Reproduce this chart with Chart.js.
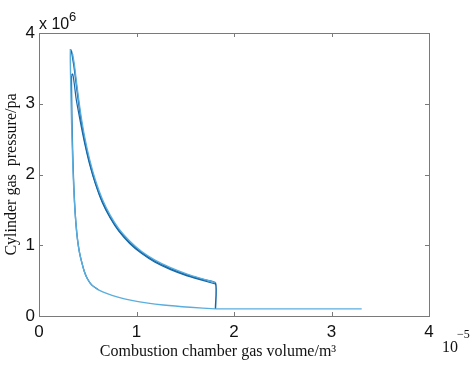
<!DOCTYPE html>
<html>
<head>
<meta charset="utf-8">
<script src="https://cdn.jsdelivr.net/npm/chart.js@4/dist/chart.umd.min.js"></script>
<style>
  html, body { margin: 0; padding: 0; background: #fff; }
  #wrap { width: 474px; height: 365px; position: relative; }
</style>
</head>
<body>
<div id="wrap"><canvas id="c" width="474" height="365"></canvas></div>
<script>
// Volume in units of 1e-5 m^3, pressure in units of 1e6 Pa
const compVolA = [1.81, 1.55, 1.275, 1.1, 0.95, 0.8, 0.7, 0.61, 0.54, 0.495, 0.465, 0.44, 0.415, 0.395, 0.378, 0.364, 0.352, 0.342, 0.333, 0.326, 0.321, 0.322];
const compPresA = [0.10, 0.123, 0.155, 0.185, 0.22, 0.27, 0.315, 0.37, 0.44, 0.53, 0.63, 0.75, 0.90, 1.08, 1.32, 1.60, 1.95, 2.35, 2.80, 3.25, 3.62, 3.77];
const expVolA = [0.322, 0.333, 0.345, 0.36, 0.38, 0.40, 0.43, 0.47, 0.52, 0.58, 0.65, 0.73, 0.82, 0.93, 1.05, 1.19, 1.35, 1.52, 1.68, 1.81, 1.81];
const expPresA = [3.77, 3.74, 3.65, 3.52, 3.30, 3.08, 2.78, 2.47, 2.17, 1.88, 1.62, 1.40, 1.21, 1.04, 0.90, 0.775, 0.67, 0.58, 0.515, 0.465, 0.10];
const compVolB = [0.61, 0.54, 0.495, 0.465, 0.44, 0.415, 0.395, 0.378, 0.365, 0.354, 0.345, 0.338, 0.334, 0.333];
const compPresB = [0.37, 0.44, 0.53, 0.63, 0.75, 0.90, 1.08, 1.32, 1.60, 1.95, 2.35, 2.80, 3.20, 3.40];
const expVolB = [0.333, 0.345, 0.36, 0.38, 0.40, 0.43, 0.47, 0.52, 0.58, 0.65, 0.73, 0.82, 0.93, 1.05, 1.19, 1.35, 1.52, 1.68, 1.81];
const expPresB = [3.40, 3.42, 3.30, 3.08, 2.92, 2.70, 2.43, 2.14, 1.86, 1.60, 1.385, 1.195, 1.025, 0.885, 0.76, 0.655, 0.567, 0.503, 0.452];
const expVolC = [0.345, 0.36, 0.38, 0.40, 0.43, 0.47, 0.52, 0.58, 0.65, 0.73, 0.82, 0.93, 1.05, 1.19, 1.35, 1.52, 1.68, 1.81];
const expPresC = [3.70, 3.58, 3.36, 3.14, 2.84, 2.52, 2.21, 1.915, 1.65, 1.425, 1.23, 1.06, 0.915, 0.79, 0.683, 0.592, 0.525, 0.475];
const exhVol = [1.81, 3.31];
const exhPres = [0.10, 0.10];
const xTicks = [0, 1, 2, 3, 4];
const yTicks = [0, 1, 2, 3, 4];

function pts(xs, ys) { return xs.map((x, i) => ({ x: x, y: ys[i] })); }

const DARK = '#1767a8';
const LIGHT = '#5aaede';

const boxPlugin = {
  id: 'boxTicks',
  afterDatasetsDraw(chart) {
    const { ctx, chartArea: a, scales } = chart;
    ctx.save();
    ctx.strokeStyle = '#7a7a7a';
    ctx.lineWidth = 1;
    ctx.strokeRect(a.left + 0.5, a.top + 0.5, a.right - a.left, a.bottom - a.top);
    ctx.beginPath();
    const L = 4;
    xTicks.forEach(v => {
      const px = Math.round(scales.x.getPixelForValue(v)) + 0.5;
      ctx.moveTo(px, a.bottom); ctx.lineTo(px, a.bottom - L);
      ctx.moveTo(px, a.top); ctx.lineTo(px, a.top + L);
    });
    yTicks.forEach(v => {
      const py = Math.round(scales.y.getPixelForValue(v)) + 0.5;
      ctx.moveTo(a.left, py); ctx.lineTo(a.left + L, py);
      ctx.moveTo(a.right, py); ctx.lineTo(a.right - L, py);
    });
    ctx.stroke();
    // exponent labels
    ctx.fillStyle = '#111';
    ctx.textBaseline = 'alphabetic';
    ctx.textAlign = 'left';
    ctx.font = '16px "Liberation Sans"';
    ctx.fillText('x 10', a.left, a.top - 4);
    ctx.font = '13px "Liberation Sans"';
    ctx.fillText('6', a.left + 30, a.top - 12);
    ctx.font = '16px "Liberation Serif"';
    ctx.fillText('10', a.right + 13, a.bottom + 36);
    ctx.font = '12px "Liberation Serif"';
    ctx.fillText('\u22125', a.right + 28, a.bottom + 22);
    ctx.restore();
  }
};

const common = { showLine: true, pointRadius: 0, tension: 0.3, fill: false };

new Chart(document.getElementById('c'), {
  type: 'scatter',
  data: {
    datasets: [
      Object.assign({ label: 'exhaust', data: pts(exhVol, exhPres), borderColor: LIGHT, borderWidth: 1.3 }, common, { tension: 0 }),
      Object.assign({ label: 'compression A', data: pts(compVolA, compPresA), borderColor: LIGHT, borderWidth: 1.4 }, common),
      Object.assign({ label: 'compression B', data: pts(compVolB, compPresB), borderColor: DARK, borderWidth: 1.3 }, common),
      Object.assign({ label: 'expansion C', data: pts(expVolC, expPresC), borderColor: LIGHT, borderWidth: 1.3 }, common),
      Object.assign({ label: 'expansion B', data: pts(expVolB, expPresB), borderColor: DARK, borderWidth: 1.2 }, common),
      Object.assign({ label: 'expansion A', data: pts(expVolA, expPresA), borderColor: DARK, borderWidth: 1.5 }, common, { tension: 0.2 })
    ]
  },
  options: {
    responsive: false,
    animation: false,
    layout: { padding: { left: 0, top: 33, right: 45, bottom: 0 } },
    plugins: { legend: { display: false }, tooltip: { enabled: false } },
    scales: {
      x: {
        type: 'linear', min: 0, max: 4,
        afterFit(s) { s.height = 49; },
        afterBuildTicks(s) { s.ticks = xTicks.map(v => ({ value: v })); },
        grid: { display: false, drawTicks: false },
        border: { display: false },
        ticks: { padding: 6, color: '#111', font: { family: 'Liberation Sans', size: 17 } },
        title: { display: true, text: 'Combustion chamber gas volume/m\u00b3        ', color: '#111',
                 font: { family: 'Liberation Serif', size: 16 }, padding: { top: 0, bottom: 4 } }
      },
      y: {
        type: 'linear', min: 0, max: 4,
        afterFit(s) { s.width = 39; },
        afterBuildTicks(s) { s.ticks = yTicks.map(v => ({ value: v })); },
        grid: { display: false, drawTicks: false },
        border: { display: false },
        ticks: { padding: 4, color: '#111', font: { family: 'Liberation Sans', size: 17 } },
        title: { display: true, text: 'Cylinder gas  pressure/pa', color: '#111',
                 font: { family: 'Liberation Serif', size: 16 }, padding: { top: 2, bottom: 0 } }
      }
    }
  },
  plugins: [boxPlugin]
});
</script>
</body>
</html>
